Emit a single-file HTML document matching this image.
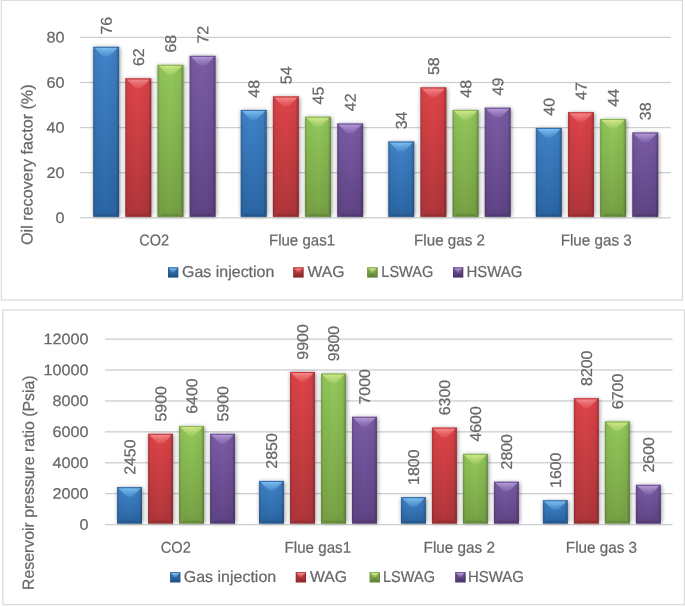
<!DOCTYPE html>
<html lang="en"><head><meta charset="utf-8"><title>Oil recovery factor and reservoir pressure charts</title>
<style>html,body{margin:0;padding:0;background:#fff;}svg{display:block;}text{font-family:'Liberation Sans', sans-serif;fill:#67676b;stroke:#67676b;stroke-width:0.22px;}</style>
</head><body>
<svg width="685" height="606" viewBox="0 0 685 606">
<defs>
<linearGradient id="vb" x1="0" y1="0" x2="0" y2="1"><stop offset="0" stop-color="#4083c9"/><stop offset="1" stop-color="#2a66a5"/></linearGradient>
<linearGradient id="hb" x1="0" y1="0" x2="0" y2="1"><stop offset="0" stop-color="#7cc0f2" stop-opacity="1"/><stop offset="0.55" stop-color="#7cc0f2" stop-opacity="0.5"/><stop offset="1" stop-color="#7cc0f2" stop-opacity="0.2"/></linearGradient>
<linearGradient id="vr" x1="0" y1="0" x2="0" y2="1"><stop offset="0" stop-color="#df4449"/><stop offset="1" stop-color="#b0363a"/></linearGradient>
<linearGradient id="hr" x1="0" y1="0" x2="0" y2="1"><stop offset="0" stop-color="#f68a8a" stop-opacity="1"/><stop offset="0.55" stop-color="#f68a8a" stop-opacity="0.5"/><stop offset="1" stop-color="#f68a8a" stop-opacity="0.2"/></linearGradient>
<linearGradient id="vg" x1="0" y1="0" x2="0" y2="1"><stop offset="0" stop-color="#93c95b"/><stop offset="1" stop-color="#77a244"/></linearGradient>
<linearGradient id="hg" x1="0" y1="0" x2="0" y2="1"><stop offset="0" stop-color="#d2ea8c" stop-opacity="1"/><stop offset="0.55" stop-color="#d2ea8c" stop-opacity="0.5"/><stop offset="1" stop-color="#d2ea8c" stop-opacity="0.2"/></linearGradient>
<linearGradient id="vp" x1="0" y1="0" x2="0" y2="1"><stop offset="0" stop-color="#7b5ca6"/><stop offset="1" stop-color="#5f4486"/></linearGradient>
<linearGradient id="hp" x1="0" y1="0" x2="0" y2="1"><stop offset="0" stop-color="#b49ad6" stop-opacity="1"/><stop offset="0.55" stop-color="#b49ad6" stop-opacity="0.5"/><stop offset="1" stop-color="#b49ad6" stop-opacity="0.2"/></linearGradient>
<linearGradient id="mb" x1="0" y1="0" x2="0" y2="1"><stop offset="0" stop-color="#3c7cbe"/><stop offset="1" stop-color="#245991"/></linearGradient>
<linearGradient id="mr" x1="0" y1="0" x2="0" y2="1"><stop offset="0" stop-color="#d34045"/><stop offset="1" stop-color="#9a2f33"/></linearGradient>
<linearGradient id="mg" x1="0" y1="0" x2="0" y2="1"><stop offset="0" stop-color="#8bbe56"/><stop offset="1" stop-color="#688e3b"/></linearGradient>
<linearGradient id="mp" x1="0" y1="0" x2="0" y2="1"><stop offset="0" stop-color="#74579d"/><stop offset="1" stop-color="#533b75"/></linearGradient>
<linearGradient id="edge" x1="0" y1="0" x2="1" y2="0"><stop offset="0" stop-color="#000" stop-opacity="0.22"/><stop offset="0.09" stop-color="#000" stop-opacity="0.04"/><stop offset="0.5" stop-color="#000" stop-opacity="0"/><stop offset="0.88" stop-color="#000" stop-opacity="0.05"/><stop offset="1" stop-color="#000" stop-opacity="0.30"/></linearGradient>
<linearGradient id="bt" x1="0" y1="0" x2="0" y2="1"><stop offset="0" stop-color="#000" stop-opacity="0.01"/><stop offset="1" stop-color="#000" stop-opacity="0.045"/></linearGradient>
<filter id="sh" x="-30%" y="-10%" width="160%" height="120%"><feGaussianBlur stdDeviation="2.1"/></filter>
</defs>
<rect width="685" height="606" fill="#fff"/>
<rect x="1.4" y="0.3" width="681.0" height="299.8" fill="#fff" stroke="#d9dadc" stroke-width="1.2"/>
<rect x="80.40" y="217.15" width="590.40" height="1.3" fill="#cdced0"/>
<text transform="translate(64.40 223.00) rotate(0.04)" text-anchor="end" font-size="15.3" textLength="9.00" lengthAdjust="spacingAndGlyphs">0</text>
<rect x="80.40" y="172.05" width="590.40" height="1.3" fill="#cdced0"/>
<text transform="translate(64.40 177.90) rotate(0.04)" text-anchor="end" font-size="15.3" textLength="18.00" lengthAdjust="spacingAndGlyphs">20</text>
<rect x="80.40" y="126.95" width="590.40" height="1.3" fill="#cdced0"/>
<text transform="translate(64.40 132.80) rotate(0.04)" text-anchor="end" font-size="15.3" textLength="18.00" lengthAdjust="spacingAndGlyphs">40</text>
<rect x="80.40" y="81.85" width="590.40" height="1.3" fill="#cdced0"/>
<text transform="translate(64.40 87.70) rotate(0.04)" text-anchor="end" font-size="15.3" textLength="18.00" lengthAdjust="spacingAndGlyphs">60</text>
<rect x="80.40" y="36.75" width="590.40" height="1.3" fill="#cdced0"/>
<text transform="translate(64.40 42.60) rotate(0.04)" text-anchor="end" font-size="15.3" textLength="18.00" lengthAdjust="spacingAndGlyphs">80</text>
<rect x="93.90" y="47.62" width="25.90" height="168.48" fill="#000" opacity="0.46" filter="url(#sh)"/>
<rect x="93.20" y="46.82" width="25.90" height="170.08" fill="url(#vb)"/>
<path d="M94.40 47.82 L117.90 47.82 L109.30 56.42 L103.00 56.42 Z" fill="url(#hb)"/>
<path d="M94.40 216.40 L117.90 216.40 L109.90 208.40 L102.40 208.40 Z" fill="url(#bt)"/>
<path d="M94.70 216.50 L117.60 216.50 L114.00 213.90 L98.30 213.90 Z" fill="#000" opacity="0.09"/>
<rect x="93.20" y="46.82" width="25.90" height="170.08" fill="url(#edge)"/>
<rect x="93.20" y="46.82" width="25.90" height="1" fill="#2a64a8" opacity="0.6"/>
<rect x="126.05" y="79.19" width="25.90" height="136.91" fill="#000" opacity="0.46" filter="url(#sh)"/>
<rect x="125.35" y="78.39" width="25.90" height="138.51" fill="url(#vr)"/>
<path d="M126.55 79.39 L150.05 79.39 L141.45 87.99 L135.15 87.99 Z" fill="url(#hr)"/>
<path d="M126.55 216.40 L150.05 216.40 L142.05 208.40 L134.55 208.40 Z" fill="url(#bt)"/>
<path d="M126.85 216.50 L149.75 216.50 L146.15 213.90 L130.45 213.90 Z" fill="#000" opacity="0.09"/>
<rect x="125.35" y="78.39" width="25.90" height="138.51" fill="url(#edge)"/>
<rect x="125.35" y="78.39" width="25.90" height="1" fill="#c12b30" opacity="0.6"/>
<rect x="158.20" y="65.66" width="25.90" height="150.44" fill="#000" opacity="0.46" filter="url(#sh)"/>
<rect x="157.50" y="64.86" width="25.90" height="152.04" fill="url(#vg)"/>
<path d="M158.70 65.86 L182.20 65.86 L173.60 74.46 L167.30 74.46 Z" fill="url(#hg)"/>
<path d="M158.70 216.40 L182.20 216.40 L174.20 208.40 L166.70 208.40 Z" fill="url(#bt)"/>
<path d="M159.00 216.50 L181.90 216.50 L178.30 213.90 L162.60 213.90 Z" fill="#000" opacity="0.09"/>
<rect x="157.50" y="64.86" width="25.90" height="152.04" fill="url(#edge)"/>
<rect x="157.50" y="64.86" width="25.90" height="1" fill="#7fb245" opacity="0.6"/>
<rect x="190.35" y="56.64" width="25.90" height="159.46" fill="#000" opacity="0.46" filter="url(#sh)"/>
<rect x="189.65" y="55.84" width="25.90" height="161.06" fill="url(#vp)"/>
<path d="M190.85 56.84 L214.35 56.84 L205.75 65.44 L199.45 65.44 Z" fill="url(#hp)"/>
<path d="M190.85 216.40 L214.35 216.40 L206.35 208.40 L198.85 208.40 Z" fill="url(#bt)"/>
<path d="M191.15 216.50 L214.05 216.50 L210.45 213.90 L194.75 213.90 Z" fill="#000" opacity="0.09"/>
<rect x="189.65" y="55.84" width="25.90" height="161.06" fill="url(#edge)"/>
<rect x="189.65" y="55.84" width="25.90" height="1" fill="#6c4c98" opacity="0.6"/>
<rect x="241.45" y="110.76" width="25.90" height="105.34" fill="#000" opacity="0.46" filter="url(#sh)"/>
<rect x="240.75" y="109.96" width="25.90" height="106.94" fill="url(#vb)"/>
<path d="M241.95 110.96 L265.45 110.96 L256.85 119.56 L250.55 119.56 Z" fill="url(#hb)"/>
<path d="M241.95 216.40 L265.45 216.40 L257.45 208.40 L249.95 208.40 Z" fill="url(#bt)"/>
<path d="M242.25 216.50 L265.15 216.50 L261.55 213.90 L245.85 213.90 Z" fill="#000" opacity="0.09"/>
<rect x="240.75" y="109.96" width="25.90" height="106.94" fill="url(#edge)"/>
<rect x="240.75" y="109.96" width="25.90" height="1" fill="#2a64a8" opacity="0.6"/>
<rect x="273.60" y="97.23" width="25.90" height="118.87" fill="#000" opacity="0.46" filter="url(#sh)"/>
<rect x="272.90" y="96.43" width="25.90" height="120.47" fill="url(#vr)"/>
<path d="M274.10 97.43 L297.60 97.43 L289.00 106.03 L282.70 106.03 Z" fill="url(#hr)"/>
<path d="M274.10 216.40 L297.60 216.40 L289.60 208.40 L282.10 208.40 Z" fill="url(#bt)"/>
<path d="M274.40 216.50 L297.30 216.50 L293.70 213.90 L278.00 213.90 Z" fill="#000" opacity="0.09"/>
<rect x="272.90" y="96.43" width="25.90" height="120.47" fill="url(#edge)"/>
<rect x="272.90" y="96.43" width="25.90" height="1" fill="#c12b30" opacity="0.6"/>
<rect x="305.75" y="117.53" width="25.90" height="98.57" fill="#000" opacity="0.46" filter="url(#sh)"/>
<rect x="305.05" y="116.73" width="25.90" height="100.17" fill="url(#vg)"/>
<path d="M306.25 117.73 L329.75 117.73 L321.15 126.33 L314.85 126.33 Z" fill="url(#hg)"/>
<path d="M306.25 216.40 L329.75 216.40 L321.75 208.40 L314.25 208.40 Z" fill="url(#bt)"/>
<path d="M306.55 216.50 L329.45 216.50 L325.85 213.90 L310.15 213.90 Z" fill="#000" opacity="0.09"/>
<rect x="305.05" y="116.73" width="25.90" height="100.17" fill="url(#edge)"/>
<rect x="305.05" y="116.73" width="25.90" height="1" fill="#7fb245" opacity="0.6"/>
<rect x="337.90" y="124.29" width="25.90" height="91.81" fill="#000" opacity="0.46" filter="url(#sh)"/>
<rect x="337.20" y="123.49" width="25.90" height="93.41" fill="url(#vp)"/>
<path d="M338.40 124.49 L361.90 124.49 L353.30 133.09 L347.00 133.09 Z" fill="url(#hp)"/>
<path d="M338.40 216.40 L361.90 216.40 L353.90 208.40 L346.40 208.40 Z" fill="url(#bt)"/>
<path d="M338.70 216.50 L361.60 216.50 L358.00 213.90 L342.30 213.90 Z" fill="#000" opacity="0.09"/>
<rect x="337.20" y="123.49" width="25.90" height="93.41" fill="url(#edge)"/>
<rect x="337.20" y="123.49" width="25.90" height="1" fill="#6c4c98" opacity="0.6"/>
<rect x="389.00" y="142.33" width="25.90" height="73.77" fill="#000" opacity="0.46" filter="url(#sh)"/>
<rect x="388.30" y="141.53" width="25.90" height="75.37" fill="url(#vb)"/>
<path d="M389.50 142.53 L413.00 142.53 L404.40 151.13 L398.10 151.13 Z" fill="url(#hb)"/>
<path d="M389.50 216.40 L413.00 216.40 L405.00 208.40 L397.50 208.40 Z" fill="url(#bt)"/>
<path d="M389.80 216.50 L412.70 216.50 L409.10 213.90 L393.40 213.90 Z" fill="#000" opacity="0.09"/>
<rect x="388.30" y="141.53" width="25.90" height="75.37" fill="url(#edge)"/>
<rect x="388.30" y="141.53" width="25.90" height="1" fill="#2a64a8" opacity="0.6"/>
<rect x="421.15" y="88.21" width="25.90" height="127.89" fill="#000" opacity="0.46" filter="url(#sh)"/>
<rect x="420.45" y="87.41" width="25.90" height="129.49" fill="url(#vr)"/>
<path d="M421.65 88.41 L445.15 88.41 L436.55 97.01 L430.25 97.01 Z" fill="url(#hr)"/>
<path d="M421.65 216.40 L445.15 216.40 L437.15 208.40 L429.65 208.40 Z" fill="url(#bt)"/>
<path d="M421.95 216.50 L444.85 216.50 L441.25 213.90 L425.55 213.90 Z" fill="#000" opacity="0.09"/>
<rect x="420.45" y="87.41" width="25.90" height="129.49" fill="url(#edge)"/>
<rect x="420.45" y="87.41" width="25.90" height="1" fill="#c12b30" opacity="0.6"/>
<rect x="453.30" y="110.76" width="25.90" height="105.34" fill="#000" opacity="0.46" filter="url(#sh)"/>
<rect x="452.60" y="109.96" width="25.90" height="106.94" fill="url(#vg)"/>
<path d="M453.80 110.96 L477.30 110.96 L468.70 119.56 L462.40 119.56 Z" fill="url(#hg)"/>
<path d="M453.80 216.40 L477.30 216.40 L469.30 208.40 L461.80 208.40 Z" fill="url(#bt)"/>
<path d="M454.10 216.50 L477.00 216.50 L473.40 213.90 L457.70 213.90 Z" fill="#000" opacity="0.09"/>
<rect x="452.60" y="109.96" width="25.90" height="106.94" fill="url(#edge)"/>
<rect x="452.60" y="109.96" width="25.90" height="1" fill="#7fb245" opacity="0.6"/>
<rect x="485.45" y="108.51" width="25.90" height="107.59" fill="#000" opacity="0.46" filter="url(#sh)"/>
<rect x="484.75" y="107.71" width="25.90" height="109.19" fill="url(#vp)"/>
<path d="M485.95 108.71 L509.45 108.71 L500.85 117.31 L494.55 117.31 Z" fill="url(#hp)"/>
<path d="M485.95 216.40 L509.45 216.40 L501.45 208.40 L493.95 208.40 Z" fill="url(#bt)"/>
<path d="M486.25 216.50 L509.15 216.50 L505.55 213.90 L489.85 213.90 Z" fill="#000" opacity="0.09"/>
<rect x="484.75" y="107.71" width="25.90" height="109.19" fill="url(#edge)"/>
<rect x="484.75" y="107.71" width="25.90" height="1" fill="#6c4c98" opacity="0.6"/>
<rect x="536.55" y="128.80" width="25.90" height="87.30" fill="#000" opacity="0.46" filter="url(#sh)"/>
<rect x="535.85" y="128.00" width="25.90" height="88.90" fill="url(#vb)"/>
<path d="M537.05 129.00 L560.55 129.00 L551.95 137.60 L545.65 137.60 Z" fill="url(#hb)"/>
<path d="M537.05 216.40 L560.55 216.40 L552.55 208.40 L545.05 208.40 Z" fill="url(#bt)"/>
<path d="M537.35 216.50 L560.25 216.50 L556.65 213.90 L540.95 213.90 Z" fill="#000" opacity="0.09"/>
<rect x="535.85" y="128.00" width="25.90" height="88.90" fill="url(#edge)"/>
<rect x="535.85" y="128.00" width="25.90" height="1" fill="#2a64a8" opacity="0.6"/>
<rect x="568.70" y="113.02" width="25.90" height="103.08" fill="#000" opacity="0.46" filter="url(#sh)"/>
<rect x="568.00" y="112.22" width="25.90" height="104.68" fill="url(#vr)"/>
<path d="M569.20 113.22 L592.70 113.22 L584.10 121.82 L577.80 121.82 Z" fill="url(#hr)"/>
<path d="M569.20 216.40 L592.70 216.40 L584.70 208.40 L577.20 208.40 Z" fill="url(#bt)"/>
<path d="M569.50 216.50 L592.40 216.50 L588.80 213.90 L573.10 213.90 Z" fill="#000" opacity="0.09"/>
<rect x="568.00" y="112.22" width="25.90" height="104.68" fill="url(#edge)"/>
<rect x="568.00" y="112.22" width="25.90" height="1" fill="#c12b30" opacity="0.6"/>
<rect x="600.85" y="119.78" width="25.90" height="96.32" fill="#000" opacity="0.46" filter="url(#sh)"/>
<rect x="600.15" y="118.98" width="25.90" height="97.92" fill="url(#vg)"/>
<path d="M601.35 119.98 L624.85 119.98 L616.25 128.58 L609.95 128.58 Z" fill="url(#hg)"/>
<path d="M601.35 216.40 L624.85 216.40 L616.85 208.40 L609.35 208.40 Z" fill="url(#bt)"/>
<path d="M601.65 216.50 L624.55 216.50 L620.95 213.90 L605.25 213.90 Z" fill="#000" opacity="0.09"/>
<rect x="600.15" y="118.98" width="25.90" height="97.92" fill="url(#edge)"/>
<rect x="600.15" y="118.98" width="25.90" height="1" fill="#7fb245" opacity="0.6"/>
<rect x="633.00" y="133.31" width="25.90" height="82.79" fill="#000" opacity="0.46" filter="url(#sh)"/>
<rect x="632.30" y="132.51" width="25.90" height="84.39" fill="url(#vp)"/>
<path d="M633.50 133.51 L657.00 133.51 L648.40 142.11 L642.10 142.11 Z" fill="url(#hp)"/>
<path d="M633.50 216.40 L657.00 216.40 L649.00 208.40 L641.50 208.40 Z" fill="url(#bt)"/>
<path d="M633.80 216.50 L656.70 216.50 L653.10 213.90 L637.40 213.90 Z" fill="#000" opacity="0.09"/>
<rect x="632.30" y="132.51" width="25.90" height="84.39" fill="url(#edge)"/>
<rect x="632.30" y="132.51" width="25.90" height="1" fill="#6c4c98" opacity="0.6"/>
<text transform="translate(111.75 34.52) rotate(-89.96)" text-anchor="start" font-size="15.7" textLength="17.70" lengthAdjust="spacingAndGlyphs">76</text>
<text transform="translate(143.90 66.09) rotate(-89.96)" text-anchor="start" font-size="15.7" textLength="17.70" lengthAdjust="spacingAndGlyphs">62</text>
<text transform="translate(176.05 52.56) rotate(-89.96)" text-anchor="start" font-size="15.7" textLength="17.70" lengthAdjust="spacingAndGlyphs">68</text>
<text transform="translate(208.20 43.54) rotate(-89.96)" text-anchor="start" font-size="15.7" textLength="17.70" lengthAdjust="spacingAndGlyphs">72</text>
<text transform="translate(259.30 97.66) rotate(-89.96)" text-anchor="start" font-size="15.7" textLength="17.70" lengthAdjust="spacingAndGlyphs">48</text>
<text transform="translate(291.45 84.13) rotate(-89.96)" text-anchor="start" font-size="15.7" textLength="17.70" lengthAdjust="spacingAndGlyphs">54</text>
<text transform="translate(323.60 104.43) rotate(-89.96)" text-anchor="start" font-size="15.7" textLength="17.70" lengthAdjust="spacingAndGlyphs">45</text>
<text transform="translate(355.75 111.19) rotate(-89.96)" text-anchor="start" font-size="15.7" textLength="17.70" lengthAdjust="spacingAndGlyphs">42</text>
<text transform="translate(406.85 129.23) rotate(-89.96)" text-anchor="start" font-size="15.7" textLength="17.70" lengthAdjust="spacingAndGlyphs">34</text>
<text transform="translate(439.00 75.11) rotate(-89.96)" text-anchor="start" font-size="15.7" textLength="17.70" lengthAdjust="spacingAndGlyphs">58</text>
<text transform="translate(471.15 97.66) rotate(-89.96)" text-anchor="start" font-size="15.7" textLength="17.70" lengthAdjust="spacingAndGlyphs">48</text>
<text transform="translate(503.30 95.41) rotate(-89.96)" text-anchor="start" font-size="15.7" textLength="17.70" lengthAdjust="spacingAndGlyphs">49</text>
<text transform="translate(554.40 115.70) rotate(-89.96)" text-anchor="start" font-size="15.7" textLength="17.70" lengthAdjust="spacingAndGlyphs">40</text>
<text transform="translate(586.55 99.92) rotate(-89.96)" text-anchor="start" font-size="15.7" textLength="17.70" lengthAdjust="spacingAndGlyphs">47</text>
<text transform="translate(618.70 106.68) rotate(-89.96)" text-anchor="start" font-size="15.7" textLength="17.70" lengthAdjust="spacingAndGlyphs">44</text>
<text transform="translate(650.85 120.21) rotate(-89.96)" text-anchor="start" font-size="15.7" textLength="17.70" lengthAdjust="spacingAndGlyphs">38</text>
<text transform="translate(154.10 245.60) rotate(0.04)" text-anchor="middle" font-size="15.8" textLength="29.80" lengthAdjust="spacingAndGlyphs">CO2</text>
<text transform="translate(302.00 245.60) rotate(0.04)" text-anchor="middle" font-size="15.8" textLength="66.10" lengthAdjust="spacingAndGlyphs">Flue gas1</text>
<text transform="translate(449.50 245.60) rotate(0.04)" text-anchor="middle" font-size="15.8" textLength="70.80" lengthAdjust="spacingAndGlyphs">Flue gas 2</text>
<text transform="translate(596.20 245.60) rotate(0.04)" text-anchor="middle" font-size="15.8" textLength="71.10" lengthAdjust="spacingAndGlyphs">Flue gas 3</text>
<text transform="translate(32.40 245.00) rotate(-89.96)" text-anchor="start" font-size="16.0" textLength="160.60" lengthAdjust="spacingAndGlyphs">Oil recovery factor (%)</text>
<rect x="168.00" y="267.30" width="10.2" height="10.2" fill="url(#mb)"/>
<path d="M168.80 268.20 L177.40 268.20 L173.50 272.70 L172.70 272.70 Z" fill="url(#hb)"/>
<path d="M168.80 276.90 L177.40 276.90 L173.50 272.70 L172.70 272.70 Z" fill="#000" opacity="0.10"/>
<rect x="168.00" y="267.30" width="10.2" height="10.2" fill="url(#edge)"/>
<rect x="168.40" y="267.70" width="9.399999999999999" height="9.399999999999999" fill="none" stroke="#1d4f8c" stroke-width="0.8" opacity="0.45"/>
<text transform="translate(182.00 277.00) rotate(0.04)" text-anchor="start" font-size="15.8" textLength="92.40" lengthAdjust="spacingAndGlyphs">Gas injection</text>
<rect x="293.30" y="267.30" width="10.2" height="10.2" fill="url(#mr)"/>
<path d="M294.10 268.20 L302.70 268.20 L298.80 272.70 L298.00 272.70 Z" fill="url(#hr)"/>
<path d="M294.10 276.90 L302.70 276.90 L298.80 272.70 L298.00 272.70 Z" fill="#000" opacity="0.10"/>
<rect x="293.30" y="267.30" width="10.2" height="10.2" fill="url(#edge)"/>
<rect x="293.70" y="267.70" width="9.399999999999999" height="9.399999999999999" fill="none" stroke="#8c1f24" stroke-width="0.8" opacity="0.45"/>
<text transform="translate(307.50 277.00) rotate(0.04)" text-anchor="start" font-size="15.8" textLength="37.00" lengthAdjust="spacingAndGlyphs">WAG</text>
<rect x="367.30" y="267.30" width="10.2" height="10.2" fill="url(#mg)"/>
<path d="M368.10 268.20 L376.70 268.20 L372.80 272.70 L372.00 272.70 Z" fill="url(#hg)"/>
<path d="M368.10 276.90 L376.70 276.90 L372.80 272.70 L372.00 272.70 Z" fill="#000" opacity="0.10"/>
<rect x="367.30" y="267.30" width="10.2" height="10.2" fill="url(#edge)"/>
<rect x="367.70" y="267.70" width="9.399999999999999" height="9.399999999999999" fill="none" stroke="#5f8a30" stroke-width="0.8" opacity="0.45"/>
<text transform="translate(381.30 277.00) rotate(0.04)" text-anchor="start" font-size="15.8" textLength="52.00" lengthAdjust="spacingAndGlyphs">LSWAG</text>
<rect x="453.00" y="267.30" width="10.2" height="10.2" fill="url(#mp)"/>
<path d="M453.80 268.20 L462.40 268.20 L458.50 272.70 L457.70 272.70 Z" fill="url(#hp)"/>
<path d="M453.80 276.90 L462.40 276.90 L458.50 272.70 L457.70 272.70 Z" fill="#000" opacity="0.10"/>
<rect x="453.00" y="267.30" width="10.2" height="10.2" fill="url(#edge)"/>
<rect x="453.40" y="267.70" width="9.399999999999999" height="9.399999999999999" fill="none" stroke="#4c3172" stroke-width="0.8" opacity="0.45"/>
<text transform="translate(466.40 277.00) rotate(0.04)" text-anchor="start" font-size="15.8" textLength="56.00" lengthAdjust="spacingAndGlyphs">HSWAG</text>
<rect x="2.8" y="310.0" width="681.6" height="294.6" fill="#fff" stroke="#d9dadc" stroke-width="1.2"/>
<rect x="104.90" y="523.95" width="567.70" height="1.3" fill="#cdced0"/>
<text transform="translate(88.60 529.80) rotate(0.04)" text-anchor="end" font-size="15.3" textLength="9.00" lengthAdjust="spacingAndGlyphs">0</text>
<rect x="104.90" y="493.03" width="567.70" height="1.3" fill="#cdced0"/>
<text transform="translate(88.60 498.88) rotate(0.04)" text-anchor="end" font-size="15.3" textLength="36.00" lengthAdjust="spacingAndGlyphs">2000</text>
<rect x="104.90" y="462.12" width="567.70" height="1.3" fill="#cdced0"/>
<text transform="translate(88.60 467.97) rotate(0.04)" text-anchor="end" font-size="15.3" textLength="36.00" lengthAdjust="spacingAndGlyphs">4000</text>
<rect x="104.90" y="431.20" width="567.70" height="1.3" fill="#cdced0"/>
<text transform="translate(88.60 437.05) rotate(0.04)" text-anchor="end" font-size="15.3" textLength="36.00" lengthAdjust="spacingAndGlyphs">6000</text>
<rect x="104.90" y="400.28" width="567.70" height="1.3" fill="#cdced0"/>
<text transform="translate(88.60 406.13) rotate(0.04)" text-anchor="end" font-size="15.3" textLength="36.00" lengthAdjust="spacingAndGlyphs">8000</text>
<rect x="104.90" y="369.37" width="567.70" height="1.3" fill="#cdced0"/>
<text transform="translate(88.60 375.22) rotate(0.04)" text-anchor="end" font-size="15.3" textLength="45.00" lengthAdjust="spacingAndGlyphs">10000</text>
<rect x="104.90" y="338.45" width="567.70" height="1.3" fill="#cdced0"/>
<text transform="translate(88.60 344.30) rotate(0.04)" text-anchor="end" font-size="15.3" textLength="45.00" lengthAdjust="spacingAndGlyphs">12000</text>
<rect x="117.80" y="487.93" width="24.90" height="34.97" fill="#000" opacity="0.46" filter="url(#sh)"/>
<rect x="117.10" y="487.13" width="24.90" height="36.57" fill="url(#vb)"/>
<path d="M118.30 488.13 L140.80 488.13 L132.20 496.73 L126.90 496.73 Z" fill="url(#hb)"/>
<path d="M118.30 523.20 L140.80 523.20 L132.80 515.20 L126.30 515.20 Z" fill="url(#bt)"/>
<path d="M118.60 523.30 L140.50 523.30 L136.90 520.70 L122.20 520.70 Z" fill="#000" opacity="0.09"/>
<rect x="117.10" y="487.13" width="24.90" height="36.57" fill="url(#edge)"/>
<rect x="117.10" y="487.13" width="24.90" height="1" fill="#2a64a8" opacity="0.6"/>
<rect x="148.80" y="434.60" width="24.90" height="88.30" fill="#000" opacity="0.46" filter="url(#sh)"/>
<rect x="148.10" y="433.80" width="24.90" height="89.90" fill="url(#vr)"/>
<path d="M149.30 434.80 L171.80 434.80 L163.20 443.40 L157.90 443.40 Z" fill="url(#hr)"/>
<path d="M149.30 523.20 L171.80 523.20 L163.80 515.20 L157.30 515.20 Z" fill="url(#bt)"/>
<path d="M149.60 523.30 L171.50 523.30 L167.90 520.70 L153.20 520.70 Z" fill="#000" opacity="0.09"/>
<rect x="148.10" y="433.80" width="24.90" height="89.90" fill="url(#edge)"/>
<rect x="148.10" y="433.80" width="24.90" height="1" fill="#c12b30" opacity="0.6"/>
<rect x="179.80" y="426.87" width="24.90" height="96.03" fill="#000" opacity="0.46" filter="url(#sh)"/>
<rect x="179.10" y="426.07" width="24.90" height="97.63" fill="url(#vg)"/>
<path d="M180.30 427.07 L202.80 427.07 L194.20 435.67 L188.90 435.67 Z" fill="url(#hg)"/>
<path d="M180.30 523.20 L202.80 523.20 L194.80 515.20 L188.30 515.20 Z" fill="url(#bt)"/>
<path d="M180.60 523.30 L202.50 523.30 L198.90 520.70 L184.20 520.70 Z" fill="#000" opacity="0.09"/>
<rect x="179.10" y="426.07" width="24.90" height="97.63" fill="url(#edge)"/>
<rect x="179.10" y="426.07" width="24.90" height="1" fill="#7fb245" opacity="0.6"/>
<rect x="210.80" y="434.60" width="24.90" height="88.30" fill="#000" opacity="0.46" filter="url(#sh)"/>
<rect x="210.10" y="433.80" width="24.90" height="89.90" fill="url(#vp)"/>
<path d="M211.30 434.80 L233.80 434.80 L225.20 443.40 L219.90 443.40 Z" fill="url(#hp)"/>
<path d="M211.30 523.20 L233.80 523.20 L225.80 515.20 L219.30 515.20 Z" fill="url(#bt)"/>
<path d="M211.60 523.30 L233.50 523.30 L229.90 520.70 L215.20 520.70 Z" fill="#000" opacity="0.09"/>
<rect x="210.10" y="433.80" width="24.90" height="89.90" fill="url(#edge)"/>
<rect x="210.10" y="433.80" width="24.90" height="1" fill="#6c4c98" opacity="0.6"/>
<rect x="259.73" y="481.74" width="24.90" height="41.16" fill="#000" opacity="0.46" filter="url(#sh)"/>
<rect x="259.03" y="480.94" width="24.90" height="42.76" fill="url(#vb)"/>
<path d="M260.23 481.94 L282.73 481.94 L274.13 490.54 L268.83 490.54 Z" fill="url(#hb)"/>
<path d="M260.23 523.20 L282.73 523.20 L274.73 515.20 L268.23 515.20 Z" fill="url(#bt)"/>
<path d="M260.53 523.30 L282.43 523.30 L278.83 520.70 L264.13 520.70 Z" fill="#000" opacity="0.09"/>
<rect x="259.03" y="480.94" width="24.90" height="42.76" fill="url(#edge)"/>
<rect x="259.03" y="480.94" width="24.90" height="1" fill="#2a64a8" opacity="0.6"/>
<rect x="290.73" y="372.76" width="24.90" height="150.14" fill="#000" opacity="0.46" filter="url(#sh)"/>
<rect x="290.03" y="371.96" width="24.90" height="151.74" fill="url(#vr)"/>
<path d="M291.23 372.96 L313.73 372.96 L305.13 381.56 L299.83 381.56 Z" fill="url(#hr)"/>
<path d="M291.23 523.20 L313.73 523.20 L305.73 515.20 L299.23 515.20 Z" fill="url(#bt)"/>
<path d="M291.53 523.30 L313.43 523.30 L309.83 520.70 L295.13 520.70 Z" fill="#000" opacity="0.09"/>
<rect x="290.03" y="371.96" width="24.90" height="151.74" fill="url(#edge)"/>
<rect x="290.03" y="371.96" width="24.90" height="1" fill="#c12b30" opacity="0.6"/>
<rect x="321.73" y="374.31" width="24.90" height="148.59" fill="#000" opacity="0.46" filter="url(#sh)"/>
<rect x="321.03" y="373.51" width="24.90" height="150.19" fill="url(#vg)"/>
<path d="M322.23 374.51 L344.73 374.51 L336.13 383.11 L330.83 383.11 Z" fill="url(#hg)"/>
<path d="M322.23 523.20 L344.73 523.20 L336.73 515.20 L330.23 515.20 Z" fill="url(#bt)"/>
<path d="M322.53 523.30 L344.43 523.30 L340.83 520.70 L326.13 520.70 Z" fill="#000" opacity="0.09"/>
<rect x="321.03" y="373.51" width="24.90" height="150.19" fill="url(#edge)"/>
<rect x="321.03" y="373.51" width="24.90" height="1" fill="#7fb245" opacity="0.6"/>
<rect x="352.73" y="417.59" width="24.90" height="105.31" fill="#000" opacity="0.46" filter="url(#sh)"/>
<rect x="352.03" y="416.79" width="24.90" height="106.91" fill="url(#vp)"/>
<path d="M353.23 417.79 L375.73 417.79 L367.13 426.39 L361.83 426.39 Z" fill="url(#hp)"/>
<path d="M353.23 523.20 L375.73 523.20 L367.73 515.20 L361.23 515.20 Z" fill="url(#bt)"/>
<path d="M353.53 523.30 L375.43 523.30 L371.83 520.70 L357.13 520.70 Z" fill="#000" opacity="0.09"/>
<rect x="352.03" y="416.79" width="24.90" height="106.91" fill="url(#edge)"/>
<rect x="352.03" y="416.79" width="24.90" height="1" fill="#6c4c98" opacity="0.6"/>
<rect x="401.66" y="497.98" width="24.90" height="24.93" fill="#000" opacity="0.46" filter="url(#sh)"/>
<rect x="400.96" y="497.18" width="24.90" height="26.53" fill="url(#vb)"/>
<path d="M402.16 498.18 L424.66 498.18 L416.06 506.78 L410.76 506.78 Z" fill="url(#hb)"/>
<path d="M402.16 523.20 L424.66 523.20 L416.66 515.20 L410.16 515.20 Z" fill="url(#bt)"/>
<path d="M402.46 523.30 L424.36 523.30 L420.76 520.70 L406.06 520.70 Z" fill="#000" opacity="0.09"/>
<rect x="400.96" y="497.18" width="24.90" height="26.53" fill="url(#edge)"/>
<rect x="400.96" y="497.18" width="24.90" height="1" fill="#2a64a8" opacity="0.6"/>
<rect x="432.66" y="428.41" width="24.90" height="94.49" fill="#000" opacity="0.46" filter="url(#sh)"/>
<rect x="431.96" y="427.61" width="24.90" height="96.09" fill="url(#vr)"/>
<path d="M433.16 428.61 L455.66 428.61 L447.06 437.21 L441.76 437.21 Z" fill="url(#hr)"/>
<path d="M433.16 523.20 L455.66 523.20 L447.66 515.20 L441.16 515.20 Z" fill="url(#bt)"/>
<path d="M433.46 523.30 L455.36 523.30 L451.76 520.70 L437.06 520.70 Z" fill="#000" opacity="0.09"/>
<rect x="431.96" y="427.61" width="24.90" height="96.09" fill="url(#edge)"/>
<rect x="431.96" y="427.61" width="24.90" height="1" fill="#c12b30" opacity="0.6"/>
<rect x="463.66" y="454.69" width="24.90" height="68.21" fill="#000" opacity="0.46" filter="url(#sh)"/>
<rect x="462.96" y="453.89" width="24.90" height="69.81" fill="url(#vg)"/>
<path d="M464.16 454.89 L486.66 454.89 L478.06 463.49 L472.76 463.49 Z" fill="url(#hg)"/>
<path d="M464.16 523.20 L486.66 523.20 L478.66 515.20 L472.16 515.20 Z" fill="url(#bt)"/>
<path d="M464.46 523.30 L486.36 523.30 L482.76 520.70 L468.06 520.70 Z" fill="#000" opacity="0.09"/>
<rect x="462.96" y="453.89" width="24.90" height="69.81" fill="url(#edge)"/>
<rect x="462.96" y="453.89" width="24.90" height="1" fill="#7fb245" opacity="0.6"/>
<rect x="494.66" y="482.52" width="24.90" height="40.38" fill="#000" opacity="0.46" filter="url(#sh)"/>
<rect x="493.96" y="481.72" width="24.90" height="41.98" fill="url(#vp)"/>
<path d="M495.16 482.72 L517.66 482.72 L509.06 491.32 L503.76 491.32 Z" fill="url(#hp)"/>
<path d="M495.16 523.20 L517.66 523.20 L509.66 515.20 L503.16 515.20 Z" fill="url(#bt)"/>
<path d="M495.46 523.30 L517.36 523.30 L513.76 520.70 L499.06 520.70 Z" fill="#000" opacity="0.09"/>
<rect x="493.96" y="481.72" width="24.90" height="41.98" fill="url(#edge)"/>
<rect x="493.96" y="481.72" width="24.90" height="1" fill="#6c4c98" opacity="0.6"/>
<rect x="543.59" y="501.07" width="24.90" height="21.83" fill="#000" opacity="0.46" filter="url(#sh)"/>
<rect x="542.89" y="500.27" width="24.90" height="23.43" fill="url(#vb)"/>
<path d="M544.09 501.27 L566.59 501.27 L557.99 509.87 L552.69 509.87 Z" fill="url(#hb)"/>
<path d="M544.09 523.20 L566.59 523.20 L558.59 515.20 L552.09 515.20 Z" fill="url(#bt)"/>
<path d="M544.39 523.30 L566.29 523.30 L562.69 520.70 L547.99 520.70 Z" fill="#000" opacity="0.09"/>
<rect x="542.89" y="500.27" width="24.90" height="23.43" fill="url(#edge)"/>
<rect x="542.89" y="500.27" width="24.90" height="1" fill="#2a64a8" opacity="0.6"/>
<rect x="574.59" y="399.04" width="24.90" height="123.86" fill="#000" opacity="0.46" filter="url(#sh)"/>
<rect x="573.89" y="398.24" width="24.90" height="125.46" fill="url(#vr)"/>
<path d="M575.09 399.24 L597.59 399.24 L588.99 407.84 L583.69 407.84 Z" fill="url(#hr)"/>
<path d="M575.09 523.20 L597.59 523.20 L589.59 515.20 L583.09 515.20 Z" fill="url(#bt)"/>
<path d="M575.39 523.30 L597.29 523.30 L593.69 520.70 L578.99 520.70 Z" fill="#000" opacity="0.09"/>
<rect x="573.89" y="398.24" width="24.90" height="125.46" fill="url(#edge)"/>
<rect x="573.89" y="398.24" width="24.90" height="1" fill="#c12b30" opacity="0.6"/>
<rect x="605.59" y="422.23" width="24.90" height="100.67" fill="#000" opacity="0.46" filter="url(#sh)"/>
<rect x="604.89" y="421.43" width="24.90" height="102.27" fill="url(#vg)"/>
<path d="M606.09 422.43 L628.59 422.43 L619.99 431.03 L614.69 431.03 Z" fill="url(#hg)"/>
<path d="M606.09 523.20 L628.59 523.20 L620.59 515.20 L614.09 515.20 Z" fill="url(#bt)"/>
<path d="M606.39 523.30 L628.29 523.30 L624.69 520.70 L609.99 520.70 Z" fill="#000" opacity="0.09"/>
<rect x="604.89" y="421.43" width="24.90" height="102.27" fill="url(#edge)"/>
<rect x="604.89" y="421.43" width="24.90" height="1" fill="#7fb245" opacity="0.6"/>
<rect x="636.59" y="485.61" width="24.90" height="37.29" fill="#000" opacity="0.46" filter="url(#sh)"/>
<rect x="635.89" y="484.81" width="24.90" height="38.89" fill="url(#vp)"/>
<path d="M637.09 485.81 L659.59 485.81 L650.99 494.41 L645.69 494.41 Z" fill="url(#hp)"/>
<path d="M637.09 523.20 L659.59 523.20 L651.59 515.20 L645.09 515.20 Z" fill="url(#bt)"/>
<path d="M637.39 523.30 L659.29 523.30 L655.69 520.70 L640.99 520.70 Z" fill="#000" opacity="0.09"/>
<rect x="635.89" y="484.81" width="24.90" height="38.89" fill="url(#edge)"/>
<rect x="635.89" y="484.81" width="24.90" height="1" fill="#6c4c98" opacity="0.6"/>
<text transform="translate(135.15 474.83) rotate(-89.96)" text-anchor="start" font-size="15.7" textLength="35.40" lengthAdjust="spacingAndGlyphs">2450</text>
<text transform="translate(166.15 421.50) rotate(-89.96)" text-anchor="start" font-size="15.7" textLength="35.40" lengthAdjust="spacingAndGlyphs">5900</text>
<text transform="translate(197.15 413.77) rotate(-89.96)" text-anchor="start" font-size="15.7" textLength="35.40" lengthAdjust="spacingAndGlyphs">6400</text>
<text transform="translate(228.15 421.50) rotate(-89.96)" text-anchor="start" font-size="15.7" textLength="35.40" lengthAdjust="spacingAndGlyphs">5900</text>
<text transform="translate(277.08 468.64) rotate(-89.96)" text-anchor="start" font-size="15.7" textLength="35.40" lengthAdjust="spacingAndGlyphs">2850</text>
<text transform="translate(308.08 359.66) rotate(-89.96)" text-anchor="start" font-size="15.7" textLength="35.40" lengthAdjust="spacingAndGlyphs">9900</text>
<text transform="translate(339.08 361.21) rotate(-89.96)" text-anchor="start" font-size="15.7" textLength="35.40" lengthAdjust="spacingAndGlyphs">9800</text>
<text transform="translate(370.08 404.49) rotate(-89.96)" text-anchor="start" font-size="15.7" textLength="35.40" lengthAdjust="spacingAndGlyphs">7000</text>
<text transform="translate(419.01 484.88) rotate(-89.96)" text-anchor="start" font-size="15.7" textLength="35.40" lengthAdjust="spacingAndGlyphs">1800</text>
<text transform="translate(450.01 415.31) rotate(-89.96)" text-anchor="start" font-size="15.7" textLength="35.40" lengthAdjust="spacingAndGlyphs">6300</text>
<text transform="translate(481.01 441.59) rotate(-89.96)" text-anchor="start" font-size="15.7" textLength="35.40" lengthAdjust="spacingAndGlyphs">4600</text>
<text transform="translate(512.01 469.42) rotate(-89.96)" text-anchor="start" font-size="15.7" textLength="35.40" lengthAdjust="spacingAndGlyphs">2800</text>
<text transform="translate(560.94 487.97) rotate(-89.96)" text-anchor="start" font-size="15.7" textLength="35.40" lengthAdjust="spacingAndGlyphs">1600</text>
<text transform="translate(591.94 385.94) rotate(-89.96)" text-anchor="start" font-size="15.7" textLength="35.40" lengthAdjust="spacingAndGlyphs">8200</text>
<text transform="translate(622.94 409.13) rotate(-89.96)" text-anchor="start" font-size="15.7" textLength="35.40" lengthAdjust="spacingAndGlyphs">6700</text>
<text transform="translate(653.94 472.51) rotate(-89.96)" text-anchor="start" font-size="15.7" textLength="35.40" lengthAdjust="spacingAndGlyphs">2600</text>
<text transform="translate(175.80 552.70) rotate(0.04)" text-anchor="middle" font-size="15.8" textLength="30.10" lengthAdjust="spacingAndGlyphs">CO2</text>
<text transform="translate(317.80 552.70) rotate(0.04)" text-anchor="middle" font-size="15.8" textLength="66.50" lengthAdjust="spacingAndGlyphs">Flue gas1</text>
<text transform="translate(459.30 552.70) rotate(0.04)" text-anchor="middle" font-size="15.8" textLength="71.50" lengthAdjust="spacingAndGlyphs">Flue gas 2</text>
<text transform="translate(601.40 552.70) rotate(0.04)" text-anchor="middle" font-size="15.8" textLength="71.10" lengthAdjust="spacingAndGlyphs">Flue gas 3</text>
<text transform="translate(33.80 589.90) rotate(-89.96)" text-anchor="start" font-size="16.0" textLength="214.40" lengthAdjust="spacingAndGlyphs">Reservoir pressure ratio (Psia)</text>
<rect x="170.10" y="572.20" width="10.2" height="10.2" fill="url(#mb)"/>
<path d="M170.90 573.10 L179.50 573.10 L175.60 577.60 L174.80 577.60 Z" fill="url(#hb)"/>
<path d="M170.90 581.80 L179.50 581.80 L175.60 577.60 L174.80 577.60 Z" fill="#000" opacity="0.10"/>
<rect x="170.10" y="572.20" width="10.2" height="10.2" fill="url(#edge)"/>
<rect x="170.50" y="572.60" width="9.399999999999999" height="9.399999999999999" fill="none" stroke="#1d4f8c" stroke-width="0.8" opacity="0.45"/>
<text transform="translate(183.80 581.90) rotate(0.04)" text-anchor="start" font-size="15.8" textLength="92.40" lengthAdjust="spacingAndGlyphs">Gas injection</text>
<rect x="295.80" y="572.20" width="10.2" height="10.2" fill="url(#mr)"/>
<path d="M296.60 573.10 L305.20 573.10 L301.30 577.60 L300.50 577.60 Z" fill="url(#hr)"/>
<path d="M296.60 581.80 L305.20 581.80 L301.30 577.60 L300.50 577.60 Z" fill="#000" opacity="0.10"/>
<rect x="295.80" y="572.20" width="10.2" height="10.2" fill="url(#edge)"/>
<rect x="296.20" y="572.60" width="9.399999999999999" height="9.399999999999999" fill="none" stroke="#8c1f24" stroke-width="0.8" opacity="0.45"/>
<text transform="translate(310.00 581.90) rotate(0.04)" text-anchor="start" font-size="15.8" textLength="37.00" lengthAdjust="spacingAndGlyphs">WAG</text>
<rect x="369.70" y="572.20" width="10.2" height="10.2" fill="url(#mg)"/>
<path d="M370.50 573.10 L379.10 573.10 L375.20 577.60 L374.40 577.60 Z" fill="url(#hg)"/>
<path d="M370.50 581.80 L379.10 581.80 L375.20 577.60 L374.40 577.60 Z" fill="#000" opacity="0.10"/>
<rect x="369.70" y="572.20" width="10.2" height="10.2" fill="url(#edge)"/>
<rect x="370.10" y="572.60" width="9.399999999999999" height="9.399999999999999" fill="none" stroke="#5f8a30" stroke-width="0.8" opacity="0.45"/>
<text transform="translate(383.00 581.90) rotate(0.04)" text-anchor="start" font-size="15.8" textLength="52.00" lengthAdjust="spacingAndGlyphs">LSWAG</text>
<rect x="455.30" y="572.20" width="10.2" height="10.2" fill="url(#mp)"/>
<path d="M456.10 573.10 L464.70 573.10 L460.80 577.60 L460.00 577.60 Z" fill="url(#hp)"/>
<path d="M456.10 581.80 L464.70 581.80 L460.80 577.60 L460.00 577.60 Z" fill="#000" opacity="0.10"/>
<rect x="455.30" y="572.20" width="10.2" height="10.2" fill="url(#edge)"/>
<rect x="455.70" y="572.60" width="9.399999999999999" height="9.399999999999999" fill="none" stroke="#4c3172" stroke-width="0.8" opacity="0.45"/>
<text transform="translate(468.00 581.90) rotate(0.04)" text-anchor="start" font-size="15.8" textLength="56.00" lengthAdjust="spacingAndGlyphs">HSWAG</text>
</svg></body></html>
